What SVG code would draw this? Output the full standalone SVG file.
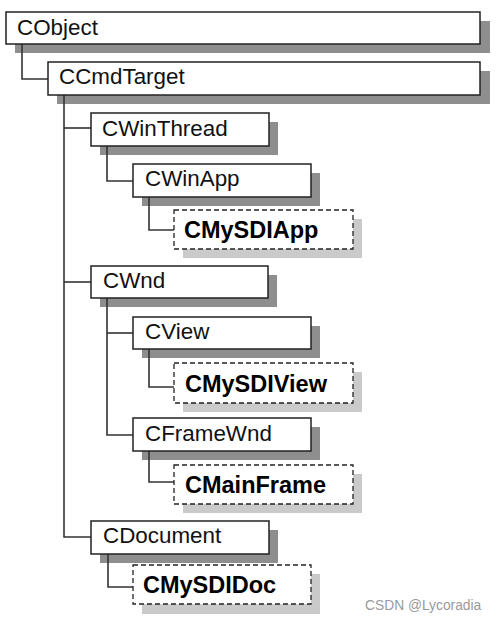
<svg xmlns="http://www.w3.org/2000/svg" width="497" height="623" viewBox="0 0 497 623">
<style>
.sh{fill:#8e8e8e}
.shl{fill:#cacaca}
.bx{fill:#fff;stroke:#222;stroke-width:1.5}
.dbx{fill:#fff;stroke:#222;stroke-width:1.3;stroke-dasharray:5 3}
.t{font-family:"Liberation Sans",Arial,sans-serif;font-size:22.4px;fill:#111}
.b{font-family:"Liberation Sans",Arial,sans-serif;font-size:23.5px;font-weight:bold;fill:#000}
.c{fill:none;stroke:#333;stroke-width:1.6}
</style>
<rect width="497" height="623" fill="#fff"/>
<g id="shadows">
<rect class="sh" x="15" y="21" width="475" height="32"/>
<rect class="sh" x="57" y="71" width="433" height="33"/>
<rect class="sh" x="100" y="122" width="178" height="33"/>
<rect class="sh" x="142" y="173" width="178" height="33"/>
<rect class="shl" x="183" y="219" width="179" height="39"/>
<rect class="sh" x="100" y="275" width="177" height="32"/>
<rect class="sh" x="142" y="326" width="178" height="32"/>
<rect class="shl" x="183" y="372" width="179" height="40"/>
<rect class="sh" x="142" y="427" width="178" height="33"/>
<rect class="shl" x="183" y="474" width="179" height="39"/>
<rect class="sh" x="100" y="530" width="178" height="33"/>
<rect class="shl" x="142" y="574" width="178" height="40"/>
</g>
<g id="connectors">
<polyline class="c" points="22,44 22,79 48,79"/>
<polyline class="c" points="64,95 64,537 91,537"/>
<line class="c" x1="64" y1="128" x2="91" y2="128"/>
<line class="c" x1="64" y1="282" x2="91" y2="282"/>
<polyline class="c" points="107,146 107,181 133,181"/>
<polyline class="c" points="149,197 149,230 174,230"/>
<polyline class="c" points="107,298 107,435 133,435"/>
<line class="c" x1="107" y1="333" x2="133" y2="333"/>
<polyline class="c" points="149,349 149,387 174,387"/>
<polyline class="c" points="149,451 149,482 174,482"/>
<polyline class="c" points="108,554 108,587 133,587"/>
</g>
<g id="CObject"><rect class="bx" x="6" y="12" width="474" height="32"/><text class="t" x="17" y="34.5">CObject</text></g>
<g id="CCmdTarget"><rect class="bx" x="48" y="62" width="432" height="33"/><text class="t" x="59" y="83.5">CCmdTarget</text></g>
<g id="CWinThread"><rect class="bx" x="91" y="113" width="178" height="33"/><text class="t" x="102" y="135.5">CWinThread</text></g>
<g id="CWinApp"><rect class="bx" x="133" y="164" width="178" height="33"/><text class="t" x="145" y="186">CWinApp</text></g>
<g id="CMySDIApp"><rect class="dbx" x="174" y="210" width="179" height="39"/><text class="b" x="184" y="237.5">CMySDIApp</text></g>
<g id="CWnd"><rect class="bx" x="91" y="266" width="177" height="32"/><text class="t" x="103" y="288">CWnd</text></g>
<g id="CView"><rect class="bx" x="133" y="317" width="178" height="32"/><text class="t" x="145" y="339">CView</text></g>
<g id="CMySDIView"><rect class="dbx" x="174" y="363" width="179" height="40"/><text class="b" x="185" y="392">CMySDIView</text></g>
<g id="CFrameWnd"><rect class="bx" x="133" y="418" width="178" height="33"/><text class="t" x="145" y="440.5">CFrameWnd</text></g>
<g id="CMainFrame"><rect class="dbx" x="174" y="465" width="179" height="39"/><text class="b" x="185" y="492.5">CMainFrame</text></g>
<g id="CDocument"><rect class="bx" x="91" y="521" width="178" height="33"/><text class="t" x="103" y="542.5">CDocument</text></g>
<g id="CMySDIDoc"><rect class="dbx" x="133" y="565" width="178" height="39"/><text class="b" x="143" y="593">CMySDIDoc</text></g>
<text x="365" y="610" style="font-family:'Liberation Sans',Arial,sans-serif;font-size:13.8px;fill:#9a9a9a">CSDN @Lycoradia</text>
</svg>
